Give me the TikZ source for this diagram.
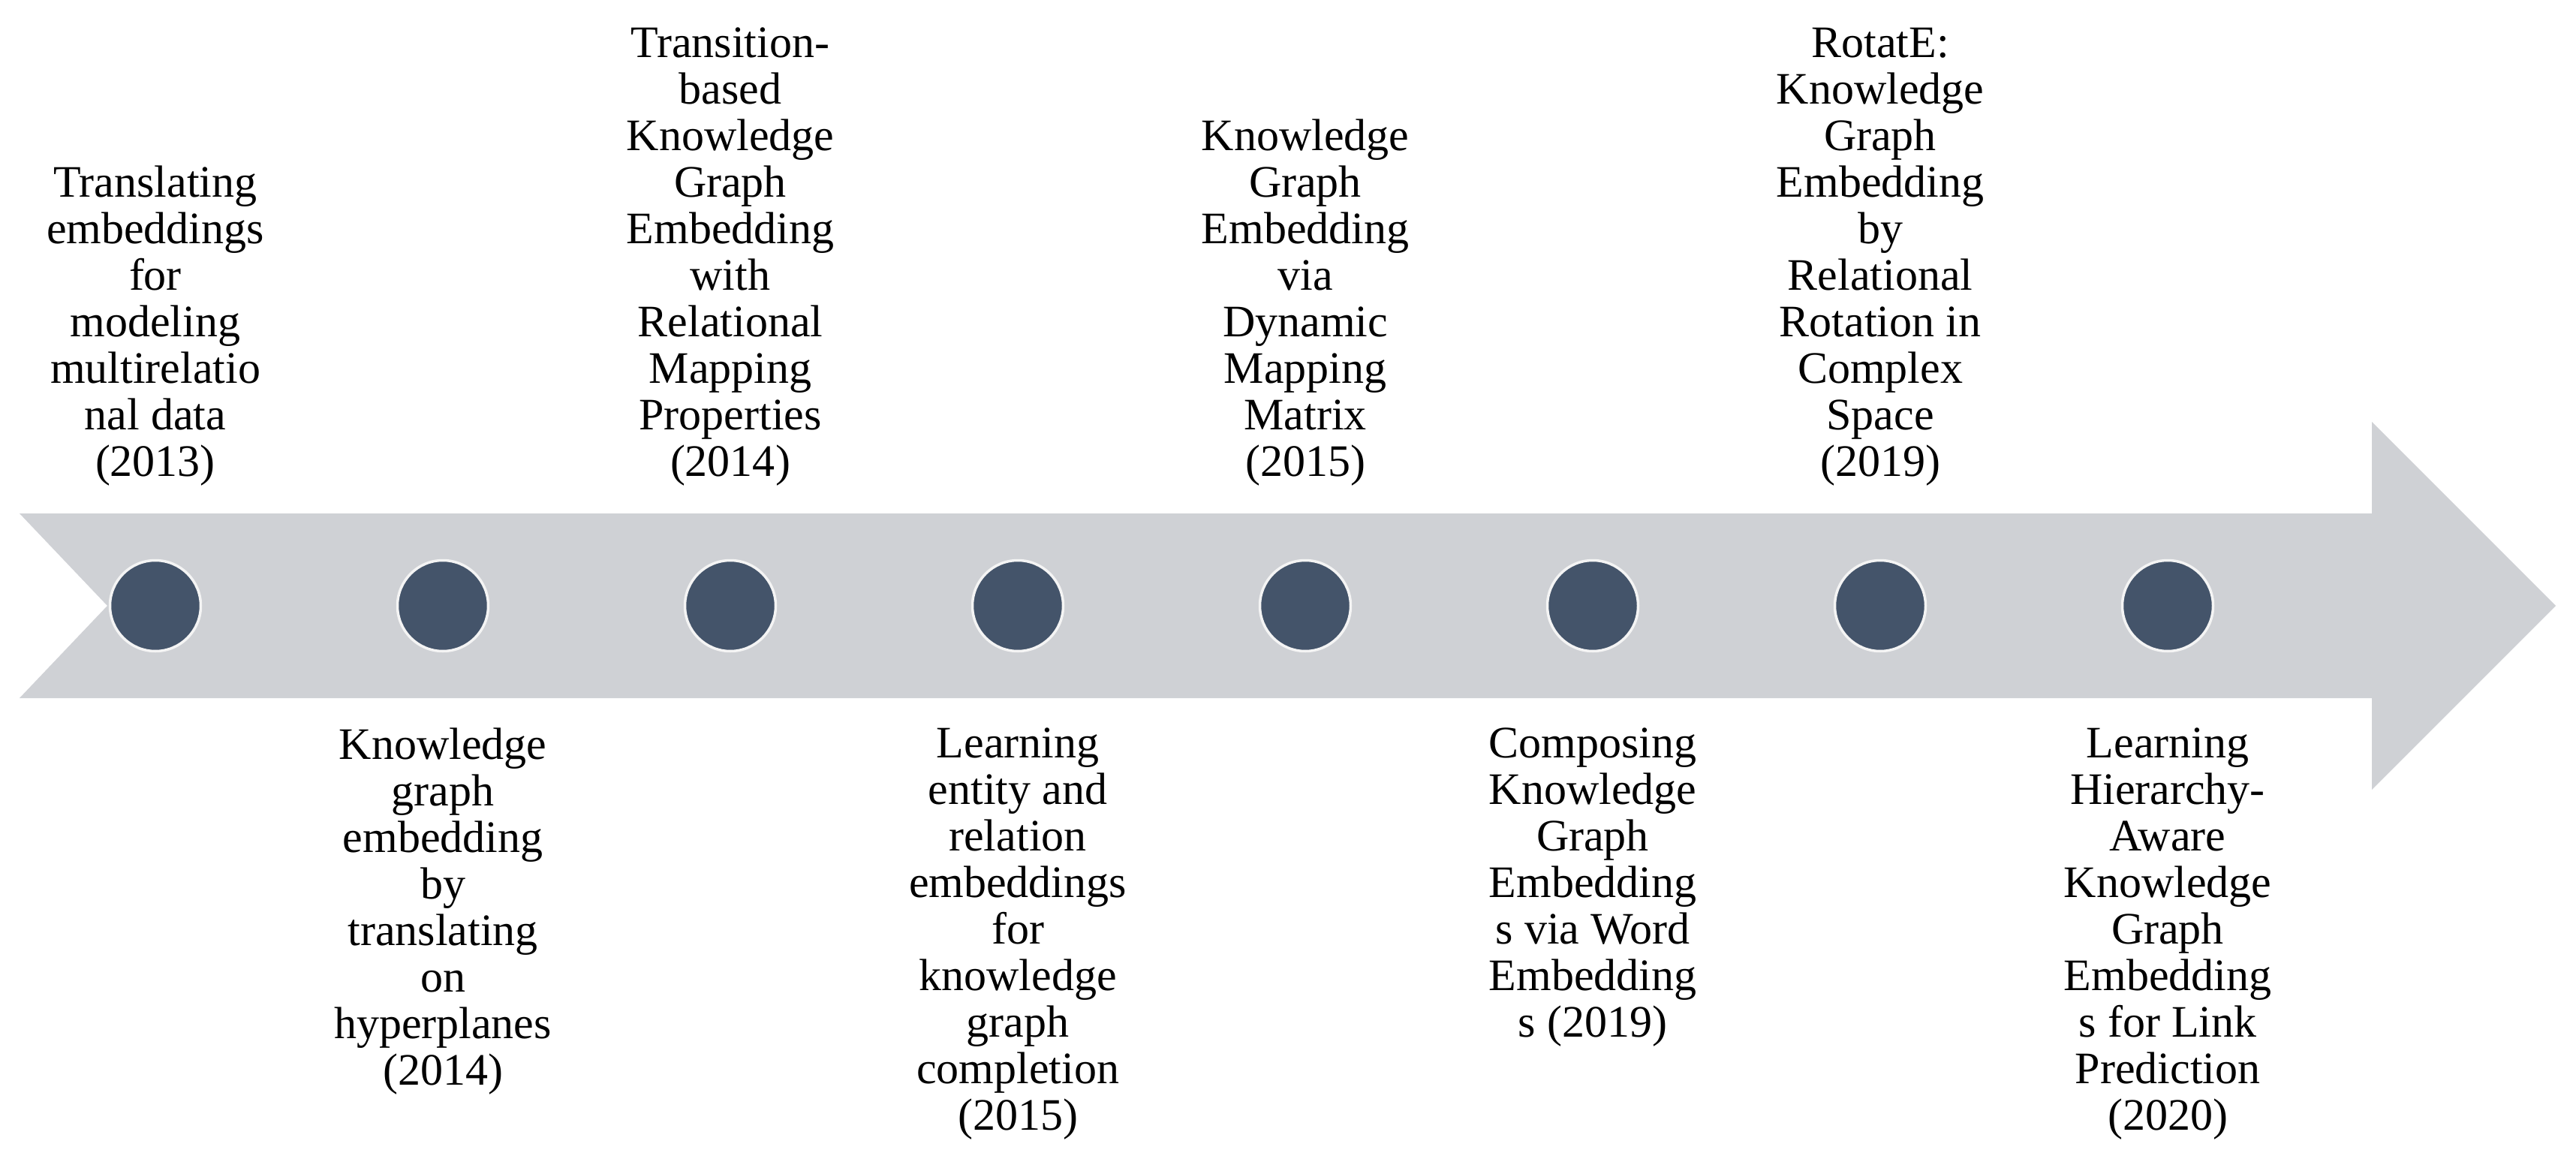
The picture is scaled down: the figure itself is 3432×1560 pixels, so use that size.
\documentclass[tikz,border=0pt]{standalone}
\usepackage{fontspec}
\setmainfont{Liberation Serif}
\definecolor{bandgray}{HTML}{CFD1D5}
\definecolor{dotblue}{HTML}{44546A}
\definecolor{dotrim}{HTML}{F4F4F4}
\begin{document}
\begin{tikzpicture}[x=0.2pt,y=-0.2pt,
  dotnode/.style={circle,fill=dotblue,draw=dotrim,line width=0.7pt,minimum size=24.2pt,inner sep=0pt},
  lbl/.style={align=center,inner sep=0pt,font=\fontsize{12pt}{12.4pt}\selectfont},
  toptext/.style={lbl,anchor=south},
  bottext/.style={lbl,anchor=north}]
\useasboundingbox (0,0) rectangle (3432,1560);
\fill[bandgray] (26,684) -- (3160,684) -- (3160,562) -- (3405,807) -- (3160,1052) -- (3160,930) -- (26,930) -- (143,807) -- cycle;
\foreach \i in {1,...,8} \node[dotnode] (d\i) at ({207+383*(\i-1)},807) {};
\node[toptext] (t1) at (207,648) {Translating\\embeddings\\for\\modeling\\multirelatio\\nal data\\(2013)};
\node[bottext] (t2) at (590,969) {Knowledge\\graph\\embedding\\by\\translating\\on\\hyperplanes\\(2014)};
\node[toptext] (t3) at (973,648) {Transition-\\based\\Knowledge\\Graph\\Embedding\\with\\Relational\\Mapping\\Properties\\(2014)};
\node[bottext] (t4) at (1356,969) {Learning\\entity and\\relation\\embeddings\\for\\knowledge\\graph\\completion\\(2015)};
\node[toptext] (t5) at (1739,648) {Knowledge\\Graph\\Embedding\\via\\Dynamic\\Mapping\\Matrix\\(2015)};
\node[bottext] (t6) at (2122,969) {Composing\\Knowledge\\Graph\\Embedding\\s via Word\\Embedding\\s (2019)};
\node[toptext] (t7) at (2505,648) {RotatE:\\Knowledge\\Graph\\Embedding\\by\\Relational\\Rotation in\\Complex\\Space\\(2019)};
\node[bottext] (t8) at (2888,969) {Learning\\Hierarchy-\\Aware\\Knowledge\\Graph\\Embedding\\s for Link\\Prediction\\(2020)};
\end{tikzpicture}
\end{document}
